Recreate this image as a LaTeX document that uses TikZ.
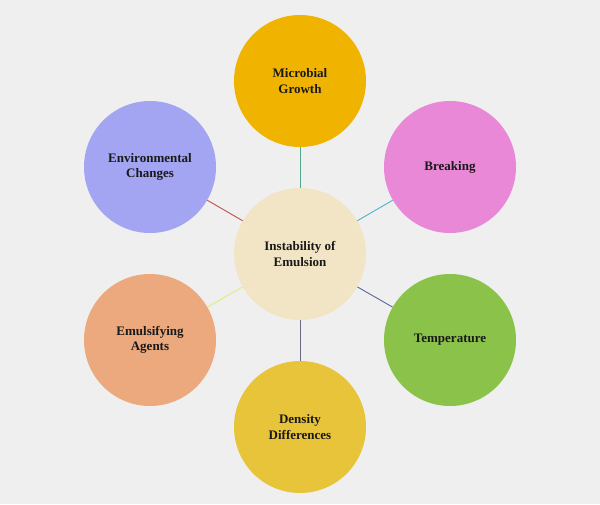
\documentclass[tikz,border=0pt]{standalone}
\usepackage{fontspec}
\setmainfont{Liberation Serif}
\begin{document}
\begin{tikzpicture}[x=1pt,y=-1pt,
  bub/.style={circle,minimum size=132pt,inner sep=0pt,align=center,font=\bfseries\fontsize{13}{15.7}\selectfont,text=black!90},
  link/.style={line width=0.9pt}]
\fill[fill={rgb,255:red,239;green,239;blue,239}] (0,0) rectangle (600,504);
\useasboundingbox (0,0) rectangle (600,504);
\definecolor{cMic}{HTML}{F0B400}
\definecolor{cBrk}{HTML}{EA88D8}
\definecolor{cTmp}{HTML}{8BC34A}
\definecolor{cDen}{HTML}{E8C43B}
\definecolor{cEmu}{HTML}{EBA97D}
\definecolor{cEnv}{HTML}{A3A5F2}
\definecolor{cCen}{HTML}{F2E5C5}
\node[bub,fill=cCen] (c) at (300,254) {Instability of\\Emulsion};
\node[bub,fill=cMic] (mic) at (300,81) {Microbial\\Growth};
\node[bub,fill=cBrk] (brk) at (450,167) {Breaking};
\node[bub,fill=cTmp] (tmp) at (450,340) {Temperature};
\node[bub,fill=cDen] (den) at (300,427) {Density\\Differences};
\node[bub,fill=cEmu] (emu) at (150,340) {Emulsifying\\Agents};
\node[bub,fill=cEnv] (env) at (150,167) {Environmental\\Changes};
\draw[link,color={rgb,255:red,79;green,168;blue,143}] (c) -- (mic);
\draw[link,color={rgb,255:red,75;green,181;blue,200}] (c) -- (brk);
\draw[link,color={rgb,255:red,90;green,106;blue,154}] (c) -- (tmp);
\draw[link,color={rgb,255:red,106;green,106;blue,128}] (c) -- (den);
\draw[link,color={rgb,255:red,232;green,232;blue,122}] (c) -- (emu);
\draw[link,color={rgb,255:red,192;green,80;blue,77}] (c) -- (env);
\end{tikzpicture}
\end{document}
